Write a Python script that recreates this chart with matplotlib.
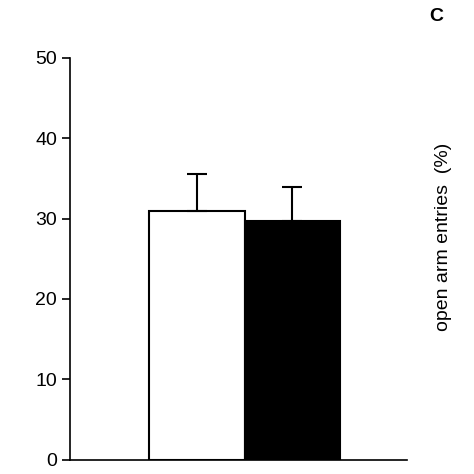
import matplotlib
matplotlib.use("Agg")
import matplotlib.pyplot as plt

groups = ["control", "treated"]
means = [31.0, 29.7]
errors = [4.5, 4.2]
colors = ["white", "black"]
yticks = [0, 10, 20, 30, 40, 50]

plt.rcParams['font.family'] = ['Liberation Sans', 'DejaVu Sans']
fig = plt.figure(figsize=(4.74, 4.74), dpi=100)
ax = fig.add_axes([0.148, 0.03, 0.71, 0.848])
x = [0.5, 1.5]
ax.bar(x, means, width=1.0, color=colors, edgecolor="black", linewidth=1.5,
       yerr=[[0, 0], errors], capsize=7, error_kw=dict(elinewidth=1.5, capthick=1.5, ecolor="black"))
ax.set_xlim(-0.83, 2.7)
ax.set_ylim(0, 50)
ax.set_yticks(yticks)
ax.set_xticks([])
ax.tick_params(axis='y', labelsize=14, width=1.2, length=6)
for s in ["top", "right"]:
    ax.spines[s].set_visible(False)
for s in ["left", "bottom"]:
    ax.spines[s].set_linewidth(1.2)
fig.text(0.905, 0.965, "C", fontsize=14, fontweight="bold", ha="left", va="center")
fig.text(0.935, 0.5, "open arm entries  (%)", fontsize=14, rotation=90, ha="center", va="center")
fig.savefig("out.png", dpi=100)
